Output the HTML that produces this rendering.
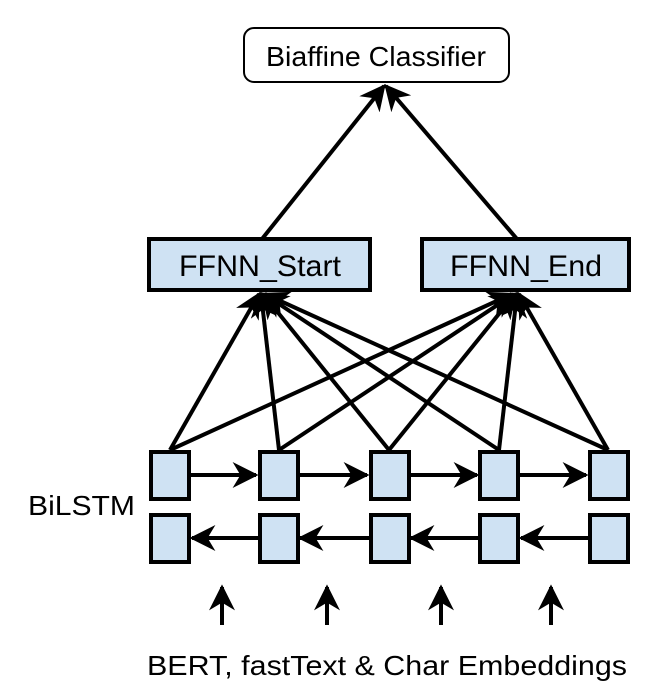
<!DOCTYPE html>
<html><head><style>html,body{margin:0;padding:0;background:#fff}svg{display:block}</style></head>
<body>
<svg width="648" height="697" viewBox="0 0 648 697" xmlns="http://www.w3.org/2000/svg" font-family="Liberation Sans, Arial, sans-serif">
<defs>
<marker id="a" viewBox="0 0 10 10" refX="9" refY="5" markerWidth="6.5" markerHeight="6.5" orient="auto" markerUnits="strokeWidth">
<path d="M0,0 L10,5 L0,10 L3,5 z" fill="#000"/>
</marker>
</defs>
<rect x="244" y="28" width="265" height="54" rx="10" fill="#fff" stroke="#000" stroke-width="2"/>
<text x="376" y="66" font-size="28" text-anchor="middle" textLength="220" lengthAdjust="spacingAndGlyphs">Biaffine Classifier</text>
<g stroke="#000" stroke-width="4" fill="none">
<line x1="262" y1="239" x2="384" y2="86" marker-end="url(#a)"/>
<line x1="517" y1="239" x2="386" y2="86" marker-end="url(#a)"/>
</g>
<rect x="149" y="239" width="221" height="51" fill="#cfe2f3" stroke="#000" stroke-width="4"/>
<rect x="422" y="239" width="207" height="51" fill="#cfe2f3" stroke="#000" stroke-width="4"/>
<text x="260" y="276" font-size="30" text-anchor="middle" textLength="162" lengthAdjust="spacingAndGlyphs">FFNN_Start</text>
<text x="526" y="276" font-size="30" text-anchor="middle" textLength="152" lengthAdjust="spacingAndGlyphs">FFNN_End</text>
<g stroke="#000" stroke-width="4" fill="none">
<line x1="170" y1="450" x2="259" y2="294" marker-end="url(#a)"/>
<line x1="279" y1="450" x2="261" y2="294" marker-end="url(#a)"/>
<line x1="389" y1="450" x2="263" y2="294" marker-end="url(#a)"/>
<line x1="499" y1="450" x2="264" y2="294" marker-end="url(#a)"/>
<line x1="608" y1="450" x2="265" y2="294" marker-end="url(#a)"/>
<line x1="170" y1="450" x2="512" y2="294" marker-end="url(#a)"/>
<line x1="279" y1="450" x2="514" y2="294" marker-end="url(#a)"/>
<line x1="389" y1="450" x2="515" y2="294" marker-end="url(#a)"/>
<line x1="499" y1="450" x2="517" y2="294" marker-end="url(#a)"/>
<line x1="608" y1="450" x2="519" y2="294" marker-end="url(#a)"/>
<line x1="190" y1="475" x2="256" y2="475" marker-end="url(#a)"/>
<line x1="298" y1="475" x2="367" y2="475" marker-end="url(#a)"/>
<line x1="409" y1="475" x2="477" y2="475" marker-end="url(#a)"/>
<line x1="519" y1="475" x2="586" y2="475" marker-end="url(#a)"/>
<line x1="258" y1="538" x2="192" y2="538" marker-end="url(#a)"/>
<line x1="369" y1="538" x2="300" y2="538" marker-end="url(#a)"/>
<line x1="478" y1="538" x2="411" y2="538" marker-end="url(#a)"/>
<line x1="588" y1="538" x2="521" y2="538" marker-end="url(#a)"/>
<line x1="222" y1="625" x2="222" y2="587" marker-end="url(#a)"/>
<line x1="327" y1="625" x2="327" y2="587" marker-end="url(#a)"/>
<line x1="441" y1="625" x2="441" y2="587" marker-end="url(#a)"/>
<line x1="551" y1="625" x2="551" y2="587" marker-end="url(#a)"/>
</g>
<g fill="#cfe2f3" stroke="#000" stroke-width="4">
<rect x="151" y="452" width="38" height="47"/>
<rect x="260" y="452" width="38" height="47"/>
<rect x="371" y="452" width="38" height="47"/>
<rect x="480" y="452" width="38" height="47"/>
<rect x="590" y="452" width="38" height="47"/>
<rect x="151" y="515" width="38" height="47"/>
<rect x="260" y="515" width="38" height="47"/>
<rect x="371" y="515" width="38" height="47"/>
<rect x="480" y="515" width="38" height="47"/>
<rect x="590" y="515" width="38" height="47"/>
</g>
<text x="28" y="515" font-size="28" textLength="107" lengthAdjust="spacingAndGlyphs">BiLSTM</text>
<text x="147" y="675" font-size="28" textLength="480" lengthAdjust="spacingAndGlyphs">BERT, fastText &amp; Char Embeddings</text>
</svg>
</body></html>
